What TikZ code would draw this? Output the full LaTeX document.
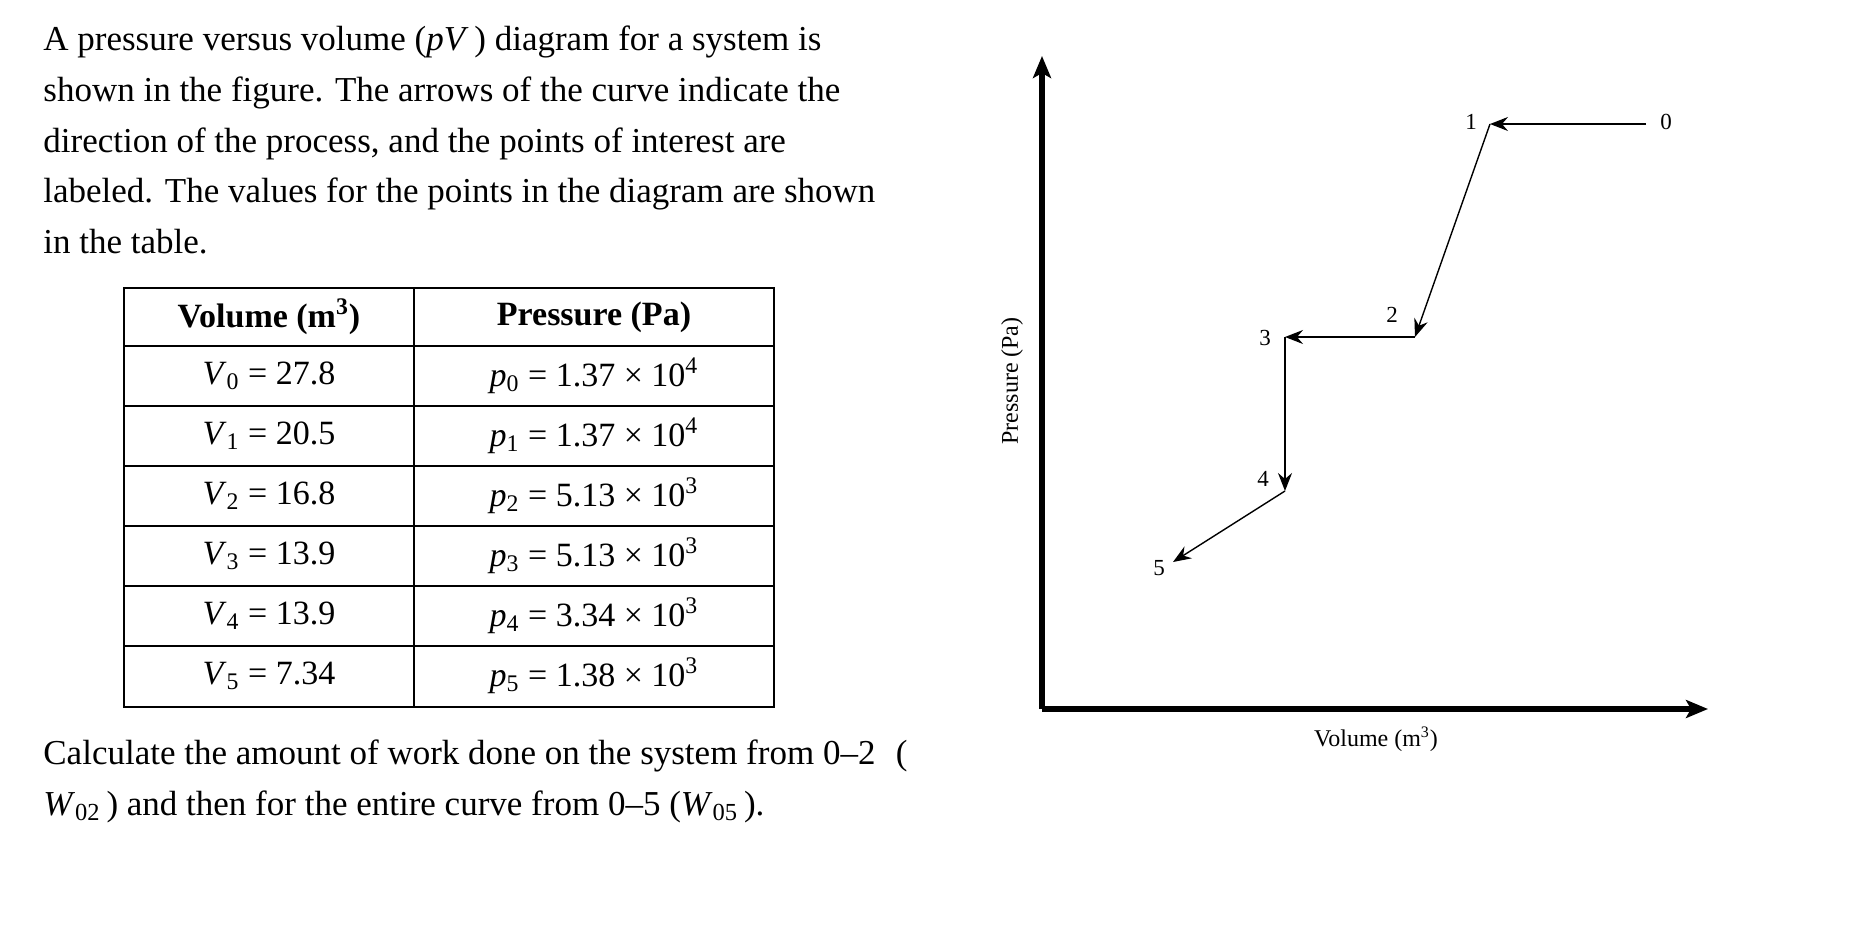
\documentclass[tikz,border=0pt]{standalone}
\usepackage{fontspec}
\setmainfont{Liberation Serif}
\usetikzlibrary{positioning, arrows.meta}
\tikzstyle{arrow} = [line width=0.7pt,-{Stealth[length=9pt,width=7pt,inset=3pt]}]
\tikzstyle{axis} = [line width=3pt,-{Stealth[length=11pt,width=9pt,inset=2.5pt]}]
\newcommand{\Vs}[1]{\textit{V}\textsubscript{#1}}
\newcommand{\ps}[1]{\textit{p}\textsubscript{#1}}

\begin{document}
\begin{tikzpicture}[x=0.5pt, y=-0.5pt,
    txt/.style={anchor=base west, inner sep=0pt, font=\fontsize{17.5}{20}\selectfont},
    cell/.style={inner sep=0pt, font=\fontsize{17}{20}\selectfont},
    lbl/.style={inner sep=1pt, font=\fontsize{11.5}{13}\selectfont}
  ]
  \useasboundingbox (0,0) rectangle (1870,926);

  % text
  \node[txt] (l1) at (43,50) {A pressure versus volume (\textit{pV}\,) diagram for a system is};
  \node[txt] (l2) at (43,101) {shown in the figure. The arrows of the curve indicate the};
  \node[txt] (l3) at (43,152) {direction of the process, and the points of interest are};
  \node[txt] (l4) at (43,202) {labeled. The values for the points in the diagram are shown};
  \node[txt] (l5) at (43,253) {in the table.};
  \begin{scope}
    \clip (0,700) rectangle (914,850);
    \node[txt] (l6) at (43,764) {Calculate the amount of work done on the system from 0–2\,\, (};
  \end{scope}
  \node[txt] (l7) at (43,815) {\textit{W}\textsubscript{02}\,) and then for the entire curve from 0–5 (\textit{W}\textsubscript{05}\,).};

  % table
  \draw[line width=0.8pt] (124,288) rectangle (774,707);
  \draw[line width=0.8pt] (414,288) -- (414,707);
  \foreach \y in {346,406,466,526,586,646}
    \draw[line width=0.8pt] (124,\y) -- (774,\y);
  \node[cell] (h1) at (269,317) {\textbf{Volume (m\textsuperscript{3})}};
  \node[cell] (h2) at (594,317) {\textbf{Pressure (Pa)}};
  \foreach \i/\v/\p [count=\r from 0] in {0/27.8/{1.37 × 10\textsuperscript{4}}, 1/20.5/{1.37 × 10\textsuperscript{4}},
      2/16.8/{5.13 × 10\textsuperscript{3}}, 3/13.9/{5.13 × 10\textsuperscript{3}},
      4/13.9/{3.34 × 10\textsuperscript{3}}, 5/7.34/{1.38 × 10\textsuperscript{3}}} {
    \node[cell] (v\i) at (269,376+60*\r) {\Vs{\i} = \v};
    \node[cell] (pr\i) at (594,376+60*\r) {\ps{\i} = \p};
  }

  % axes
  \coordinate (o) at (1042,709);
  \coordinate (ytop) at (1042,56);
  \coordinate (xend) at (1708,709);
  \draw[axis] (o) -- (ytop);
  \draw[axis] (o) -- (xend);
  \node[rotate=90, lbl, font=\fontsize{12}{14}\selectfont] (ylab) at (1012,381) {Pressure (Pa)};
  \node[lbl, font=\fontsize{12}{14}\selectfont] (xlab) at (1376,739) {Volume (m\textsuperscript{3})};

  % process
  \coordinate (p0) at (1646,124);
  \coordinate (p1) at (1490,124);
  \coordinate (p2) at (1415,337);
  \coordinate (p3) at (1285,337);
  \coordinate (p4) at (1285,491);
  \coordinate (p5) at (1173,562);
  \draw[arrow] (p0) -- (p1);
  \draw[arrow] (p1) -- (p2);
  \draw[arrow] (p2) -- (p3);
  \draw[arrow] (p3) -- (p4);
  \draw[arrow] (p4) -- (p5);
  \node[lbl] (n0) at (1666,122) {0};
  \node[lbl] (n1) at (1471,122) {1};
  \node[lbl] (n2) at (1392,315) {2};
  \node[lbl] (n3) at (1265,338) {3};
  \node[lbl] (n4) at (1263,479) {4};
  \node[lbl] (n5) at (1159,568) {5};
\end{tikzpicture}
\end{document}
